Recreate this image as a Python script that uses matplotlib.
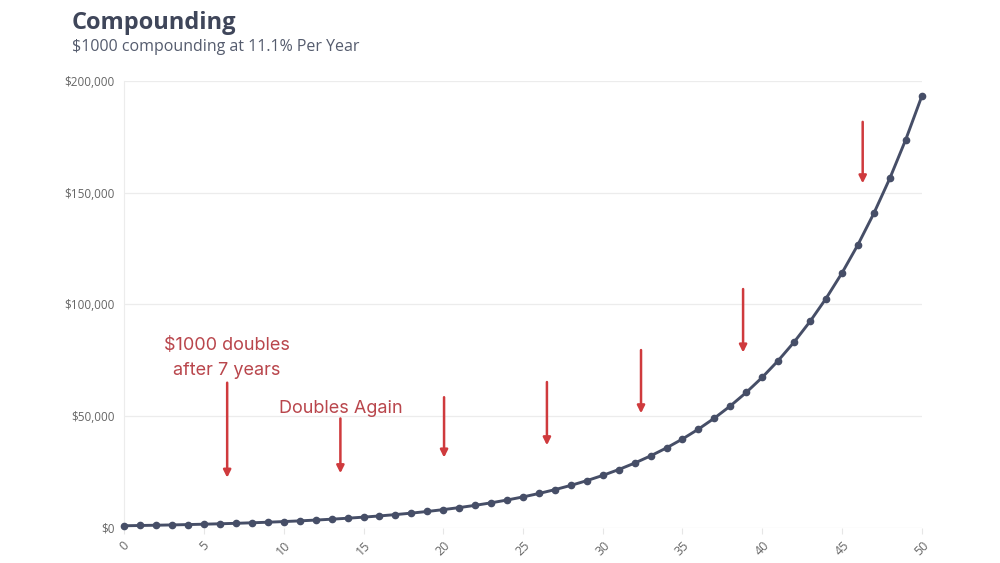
import numpy as np
import matplotlib.pyplot as plt

years = list(range(0, 51))
balance = [1000, 1111, 1234, 1371, 1524, 1693, 1881, 2089, 2321, 2579,
           2865, 3183, 3536, 3929, 4365, 4850, 5388, 5986, 6650, 7389,
           8209, 9120, 10132, 11257, 12507, 13895, 15437, 17151, 19054, 21169,
           23519, 26130, 29030, 32253, 35833, 39810, 44229, 49138, 54593, 60652,
           67385, 74865, 83175, 92407, 102664, 114060, 126720, 140786, 156414, 173776,
           193065]

# red arrows: x, top, bottom
arrow_x = [6.45, 13.55, 20.05, 26.5, 32.4, 38.8, 46.3]
arrow_top = [65000, 49000, 58500, 65300, 79600, 106900, 181700]
arrow_bottom = [22500, 24500, 31500, 37000, 51300, 78500, 154200]

y_ticks = [0, 50000, 100000, 150000, 200000]
y_labels = ['$0', '$50,000', '$100,000', '$150,000', '$200,000']
x_ticks = list(range(0, 51, 5))

navy = '#464e67'
red = '#cf3a3d'

fig = plt.figure(figsize=(10, 5.63), dpi=100)
ax = fig.add_axes([0.1243, 0.0622, 0.7974, 0.7940])

ax.plot(years, balance, color=navy, lw=2.1, marker='o', ms=4.5, clip_on=False, zorder=3)

for x, t, b in zip(arrow_x, arrow_top, arrow_bottom):
    ax.annotate('', xy=(x, b), xytext=(x, t),
                arrowprops=dict(arrowstyle='-|>', color=red, lw=1.8,
                                mutation_scale=11, shrinkA=0, shrinkB=0))

ax.text(6.45, 76000, '$1000 doubles\nafter 7 years', color='#b9464c', fontsize=13,
        family='Inter', ha='center', va='center', linespacing=1.6)
ax.text(13.55, 53300, 'Doubles Again', color='#b9464c', fontsize=13,
        family='Inter', ha='center', va='center')

ax.set_xlim(0, 50)
ax.set_ylim(0, 200000)
ax.set_yticks(y_ticks)
ax.set_yticklabels(y_labels)
ax.set_xticks(x_ticks)
ax.grid(axis='y', color='#ececec', lw=0.9)
ax.set_axisbelow(True)
for s in ['top', 'right', 'bottom']:
    ax.spines[s].set_visible(False)
ax.spines['left'].set_color('#ececec')
ax.tick_params(axis='y', length=0, pad=7, labelsize=8.5, labelcolor='#666666')
ax.tick_params(axis='x', length=4, color='#e6e6e6', pad=4, labelsize=9, labelcolor='#666666')
for lbl in ax.get_xticklabels():
    lbl.set_rotation(45)
    lbl.set_ha('center')
for lbl in ax.get_xticklabels() + ax.get_yticklabels():
    lbl.set_family('Open Sans')

fig.text(0.072, 0.960, 'Compounding', fontsize=17, fontweight='bold', color='#3f465a',
         family='Open Sans', va='center', ha='left')
fig.text(0.072, 0.917, '$1000 compounding at 11.1% Per Year', fontsize=11.5, color='#555c6e',
         family='Open Sans', va='center', ha='left')

fig.savefig('out.png', dpi=100)
